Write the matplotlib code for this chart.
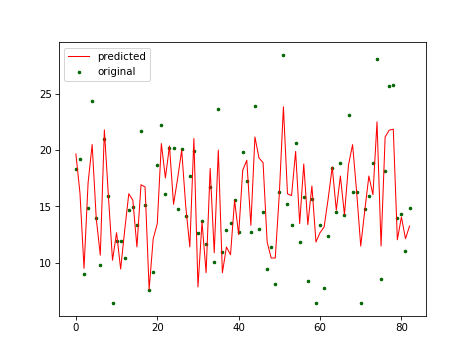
import matplotlib
matplotlib.use("Agg")
import matplotlib.pyplot as plt
import numpy as np

original = [18.36, 19.2, 9.02, 14.89, 24.4, 13.97, 9.77, 21.0, 15.9, 6.44,
            11.93, 11.9, 10.42, 14.7, 14.98, 13.38, 21.73, 15.1, 7.57, 9.17,
            18.71, 22.27, 16.08, 20.2, 20.2, 14.8, 20.13, 14.17, 17.7, 19.9,
            12.64, 13.68, 11.69, 16.7, 10.06, 23.69, 10.95, 12.93, 13.5, 15.55,
            12.7, 19.81, 17.29, 12.76, 23.9, 12.97, 14.53, 9.47, 11.4, 8.08,
            16.26, 28.46, 15.24, 13.32, 20.67, 11.84, 15.84, 8.37, 15.69, 6.44,
            13.38, 7.75, 12.4, 18.42, 14.53, 18.89, 14.24, 23.12, 16.31, 16.26,
            6.38, 14.74, 15.9, 18.86, 28.1, 8.55, 18.15, 25.68, 25.82, 13.95,
            14.36, 11.0, 14.89]

predicted = [19.66, 16.2, 9.5, 17.1, 20.5, 13.95, 10.67, 21.8, 15.88, 10.22,
             12.67, 9.44, 12.9, 16.13, 15.55, 11.4, 16.93, 16.73, 7.63, 12.13,
             13.47, 20.58, 17.53, 20.37, 15.19, 17.47, 20.0, 15.0, 11.4, 21.03,
             7.85, 13.62, 9.11, 18.37, 10.89, 20.0, 9.11, 11.4, 10.71, 15.55,
             12.5, 18.21, 19.1, 13.32, 21.17, 19.3, 18.89, 11.84, 10.42, 10.42,
             16.13, 23.85, 16.12, 15.96, 19.88, 13.48, 18.77, 13.38, 16.82, 11.84,
             12.67, 13.17, 15.69, 18.5, 14.66, 17.7, 14.27, 18.7, 20.49, 16.28,
             11.48, 14.66, 17.7, 16.04, 22.51, 11.48, 21.17, 21.77, 21.86, 12.04,
             14.06, 12.13, 13.26]

x = np.arange(len(original))

fig, ax = plt.subplots(figsize=(6.4, 4.8), dpi=74)
ax.plot(x, predicted, color='red', linewidth=1.0, label='predicted')
ax.scatter(x, original, s=6, color='darkgreen', label='original')
ax.set_xticks([0, 20, 40, 60, 80])
ax.set_yticks([10, 15, 20, 25])
ax.legend(loc='upper left')
fig.savefig('out.png', dpi=74)
